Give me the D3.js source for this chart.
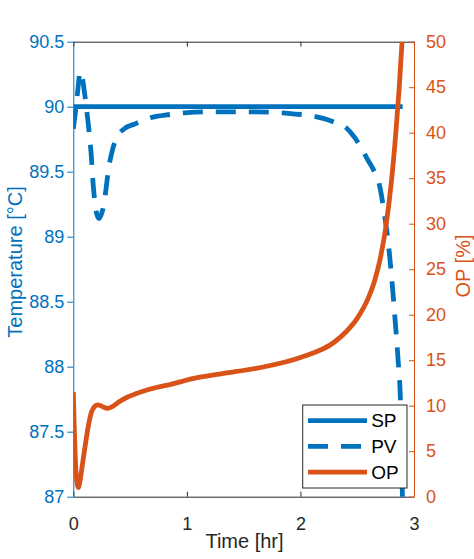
<!DOCTYPE html>
<html>
<head>
<meta charset="utf-8">
<script src="https://cdn.jsdelivr.net/npm/d3@7/dist/d3.min.js"></script>
<style>
  body { margin: 0; background: #fff; }
  text { font-family: "Liberation Sans", Arial, sans-serif; }
</style>
</head>
<body>
<div class="canvas"></div>
<script>
// data
const spTime = [0, 2.9];
const spValues = [90, 90];

const pvTime = [0, 0.02, 0.04, 0.055, 0.065, 0.08, 0.1, 0.125, 0.156, 0.178, 0.2, 0.226, 0.25, 0.27, 0.29, 0.31, 0.34, 0.38, 0.45, 0.55, 0.66, 0.85, 1.0, 1.2, 1.4, 1.6, 1.8, 2.0, 2.1, 2.2, 2.3, 2.4, 2.48, 2.55, 2.6, 2.64, 2.7, 2.74, 2.77, 2.8, 2.83, 2.86, 2.88, 2.9];
const pvValues = [89.83, 89.97, 90.13, 90.25, 90.27, 90.22, 90.1, 89.92, 89.65, 89.37, 89.2, 89.14, 89.18, 89.25, 89.38, 89.52, 89.65, 89.76, 89.83, 89.87, 89.91, 89.94, 89.955, 89.96, 89.96, 89.96, 89.955, 89.94, 89.93, 89.91, 89.88, 89.84, 89.76, 89.66, 89.58, 89.52, 89.38, 89.17, 88.98, 88.72, 88.4, 88.05, 87.75, 86.9];

const opTime = [0, 0.01, 0.025, 0.044, 0.06, 0.08, 0.1, 0.13, 0.16, 0.19, 0.215, 0.25, 0.3, 0.35, 0.4, 0.47, 0.55, 0.67, 0.875, 1.06, 1.3, 1.65, 2.0, 2.3, 2.4, 2.5, 2.6, 2.65, 2.7, 2.75, 2.8, 2.84, 2.87, 2.895];
const opValues = [11.5, 7, 2.5, 1.0, 1.8, 3.5, 5.2, 7.6, 9.3, 9.95, 10.1, 9.95, 9.7, 9.95, 10.4, 10.9, 11.3, 11.8, 12.4, 13.0, 13.5, 14.2, 15.3, 17.0, 18.1, 19.6, 21.9, 23.6, 26.0, 29.5, 34.5, 40.0, 45.0, 50];

const timeTicks = [0, 1, 2, 3];
const tempTicks = [87, 87.5, 88, 88.5, 89, 89.5, 90, 90.5];
const opTicks = [0, 5, 10, 15, 20, 25, 30, 35, 40, 45, 50];

const seriesNames = ['SP', 'PV', 'OP'];

const blue = '#0072BD';
const orange = '#D95319';
const dark = '#262626';

const dims = { left: 73.3, right: 414, top: 41.7, bottom: 496.7 };

const svg = d3.select('.canvas')
    .append('svg')
    .attr('width', 474)
    .attr('height', 559);

const x = d3.scaleLinear().domain([0, 3]).range([dims.left, dims.right]);
const yTemp = d3.scaleLinear().domain([87, 90.5]).range([dims.bottom, dims.top]);
const yOP = d3.scaleLinear().domain([0, 50]).range([dims.bottom, dims.top]);

svg.append('clipPath').attr('id', 'plot')
  .append('rect')
    .attr('x', dims.left).attr('y', dims.top)
    .attr('width', dims.right - dims.left)
    .attr('height', dims.bottom - dims.top);

// axes
const fmt = d => String(d);

const bottomAxis = svg.append('g')
    .attr('transform', `translate(0,${dims.bottom})`)
    .call(d3.axisBottom(x).tickValues(timeTicks).tickFormat(fmt).tickSizeInner(-5).tickSizeOuter(0).tickPadding(21));
const topAxis = svg.append('g')
    .attr('transform', `translate(0,${dims.top})`)
    .call(d3.axisTop(x).tickValues(timeTicks).tickFormat('').tickSizeInner(-5).tickSizeOuter(0));
[bottomAxis, topAxis].forEach(g => {
    g.select('.domain').attr('stroke', dark).attr('stroke-width', 1);
    g.selectAll('.tick line').attr('stroke', dark);
    g.selectAll('text').attr('fill', dark).attr('font-size', 18);
});

const leftAxis = svg.append('g')
    .attr('transform', `translate(${dims.left},0)`)
    .call(d3.axisLeft(yTemp).tickValues(tempTicks).tickFormat(fmt).tickSizeInner(6).tickSizeOuter(0).tickPadding(3));
leftAxis.select('.domain').attr('stroke', blue);
leftAxis.selectAll('.tick line').attr('stroke', blue);
leftAxis.selectAll('text').attr('fill', blue).attr('font-size', 18);

const rightAxis = svg.append('g')
    .attr('transform', `translate(${dims.right},0)`)
    .call(d3.axisRight(yOP).tickValues(opTicks).tickFormat(fmt).tickSizeInner(-5).tickSizeOuter(0).tickPadding(12));
rightAxis.select('.domain').attr('stroke', orange);
rightAxis.selectAll('.tick line').attr('stroke', orange);
rightAxis.selectAll('text').attr('fill', orange).attr('font-size', 18);

// lines
const graph = svg.append('g').attr('clip-path', 'url(#plot)');

const tempLine = d3.line().x(d => x(d[0])).y(d => yTemp(d[1])).curve(d3.curveMonotoneX);
const opLine = d3.line().x(d => x(d[0])).y(d => yOP(d[1])).curve(d3.curveMonotoneX);

graph.append('path')
    .attr('d', tempLine(d3.zip(spTime, spValues)))
    .attr('fill', 'none').attr('stroke', blue).attr('stroke-width', 4.8);

graph.append('path')
    .attr('d', tempLine(d3.zip(pvTime, pvValues)))
    .attr('fill', 'none').attr('stroke', blue).attr('stroke-width', 4.8)
    .attr('stroke-dasharray', '20,13');

graph.append('path')
    .attr('d', opLine(d3.zip(opTime, opValues)))
    .attr('fill', 'none').attr('stroke', orange).attr('stroke-width', 4.8);

// axis labels
svg.append('text')
    .attr('transform', 'translate(22,262) rotate(-90)')
    .attr('text-anchor', 'middle')
    .attr('font-size', 20)
    .attr('fill', blue)
    .text('Temperature [°C]');

svg.append('text')
    .attr('transform', 'translate(469.5,266) rotate(-90)')
    .attr('text-anchor', 'middle')
    .attr('font-size', 20)
    .attr('fill', orange)
    .text('OP [%]');

svg.append('text')
    .attr('x', 244.5).attr('y', 548)
    .attr('text-anchor', 'middle')
    .attr('font-size', 20)
    .attr('fill', dark)
    .text('Time [hr]');

// legend
const legendGroup = svg.append('g').attr('transform', 'translate(302.7,405)');
legendGroup.append('rect')
    .attr('width', 104.3).attr('height', 83)
    .attr('fill', '#fff').attr('stroke', dark).attr('stroke-width', 1);

const legendStyle = [
    { colour: blue, dash: null },
    { colour: blue, dash: '20,13' },
    { colour: orange, dash: null }
];

const items = legendGroup.selectAll('g.item')
    .data(seriesNames)
    .enter().append('g')
    .attr('class', 'item')
    .attr('transform', (d, i) => `translate(0,${15.7 + i * 25.7})`);

items.append('line')
    .attr('x1', 5.3).attr('x2', 64.3)
    .attr('stroke', (d, i) => legendStyle[i].colour)
    .attr('stroke-width', 4.8)
    .attr('stroke-dasharray', (d, i) => legendStyle[i].dash);

items.append('text')
    .attr('x', 68.5).attr('dy', '0.35em')
    .attr('font-size', 19)
    .attr('fill', '#000')
    .text(d => d);
</script>
</body>
</html>
